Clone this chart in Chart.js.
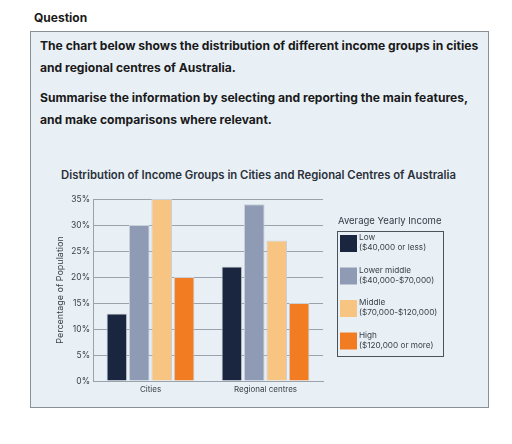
<!DOCTYPE html>
<html>
<head>
<meta charset="utf-8">
<script src="https://cdn.jsdelivr.net/npm/chart.js@4/dist/chart.umd.min.js"></script>
<style>
  body { margin: 0; background: #fff; font-family: Inter, sans-serif; color: #1a1a1a; }
  #q { position: absolute; left: 34px; top: 10px; font-size: 12px; font-weight: 700; }
  #box { position: absolute; left: 30px; top: 31px; width: 457px; height: 375px;
         background: #e8f0f6; border: 1px solid #8a9196; }
  .p { position: absolute; left: 9px; font-size: 12.1px; font-weight: 700; line-height: 22px; white-space: nowrap; }
  #title { position: absolute; left: 0; width: 455px; top: 136px; text-align: center;
           font-size: 11.3px; font-weight: 600; color: #2b303a; white-space: nowrap; }
  #wrap { position: absolute; left: 2px; top: 124px; width: 454px; height: 250px; }
</style>
</head>
<body>
<div id="q">Question</div>
<div id="box">
  <div class="p" style="top:3px">The chart below shows the distribution of different income groups in cities<br>and regional centres of Australia.</div>
  <div class="p" style="top:55px">Summarise the information by selecting and reporting the main features,<br>and make comparisons where relevant.</div>
  <div id="title">Distribution of Income Groups in Cities and Regional Centres of Australia</div>
  <div id="wrap"><canvas id="c" width="454" height="250"></canvas></div>
</div>
<script>
'use strict'

var categories = ['Cities', 'Regional centres'];
var groups = ['Low', 'Lower middle', 'Middle', 'High'];
var ranges = ['($40,000 or less)', '($40,000-$70,000)', '($70,000-$120,000)', '($120,000 or more)'];
var low = [13, 22];
var lowerMiddle = [30, 34];
var middle = [35, 27];
var high = [20, 15];
var yTicks = [0, 5, 10, 15, 20, 25, 30, 35];
var colors = ['#1a2540', '#8f9bb4', '#f8c482', '#f17c22'];

var series = [low, lowerMiddle, middle, high];

// legend drawn beside the plot, two lines per entry
var sideLegend = {
  id: 'sideLegend',
  afterDraw: function(chart) {
    var ctx = chart.ctx;
    var x = chart.chartArea.right + 14;
    var top = 75;
    ctx.save();
    ctx.fillStyle = '#333a44';
    ctx.font = '9.5px Inter';
    ctx.textBaseline = 'middle';
    ctx.fillText('Average Yearly Income', x + 1, top - 10);
    ctx.strokeStyle = '#4a525c';
    ctx.lineWidth = 1;
    ctx.strokeRect(x + 0.5, top + 0.5, 106, 125);
    groups.forEach(function(g, i) {
      var y = top + 4 + i * 32.5;
      ctx.fillStyle = colors[i];
      ctx.fillRect(x + 3, y, 17, 17);
      ctx.fillStyle = '#3a4048';
      ctx.font = '8.2px Inter';
      ctx.fillText(g, x + 22, y + 3);
      ctx.fillText(ranges[i], x + 22, y + 13);
    });
    ctx.restore();
  }
};

function draw() {
  var ctx = document.getElementById('c');
  var mychart = new Chart(ctx, {
    type: 'bar',
    data: {
      labels: categories,
      datasets: series.map(function(d, i) {
        return {
          label: groups[i],
          data: d,
          backgroundColor: colors[i],
          borderColor: '#c9d0d8',
          borderWidth: 1,
          barPercentage: 0.92,
          categoryPercentage: 0.78
        };
      })
    },
    options: {
      responsive: false,
      animation: false,
      layout: { padding: { left: 20, right: 164, top: 43, bottom: 0 } },
      plugins: {
        legend: { display: false },
        tooltip: { enabled: false },
        title: { display: false }
      },
      scales: {
        x: {
          grid: { display: false, drawTicks: false },
          border: { color: '#9aa3ab' },
          ticks: { color: '#3a4048', font: { family: 'Inter', size: 8 }, padding: 4 },
          afterFit: function(s) { s.height = 25; }
        },
        y: {
          min: 0,
          max: 35,
          afterBuildTicks: function(s) { s.ticks = yTicks.map(function(v) { return { value: v }; }); },
          ticks: {
            color: '#3a4048',
            font: { family: 'Inter', size: 8.5 },
            padding: 3,
            callback: function(v) { return v + '%'; }
          },
          grid: { color: '#9aa3ab', drawTicks: false },
          border: { color: '#9aa3ab' },
          title: {
            display: true,
            text: 'Percentage of Population',
            color: '#3a4048',
            font: { family: 'Inter', size: 9 },
            padding: 2
          },
          afterFit: function(s) { s.width = 40; }
        }
      }
    },
    plugins: [sideLegend]
  });
}

document.fonts.load('9px Inter').then(draw, draw);
</script>
</body>
</html>
